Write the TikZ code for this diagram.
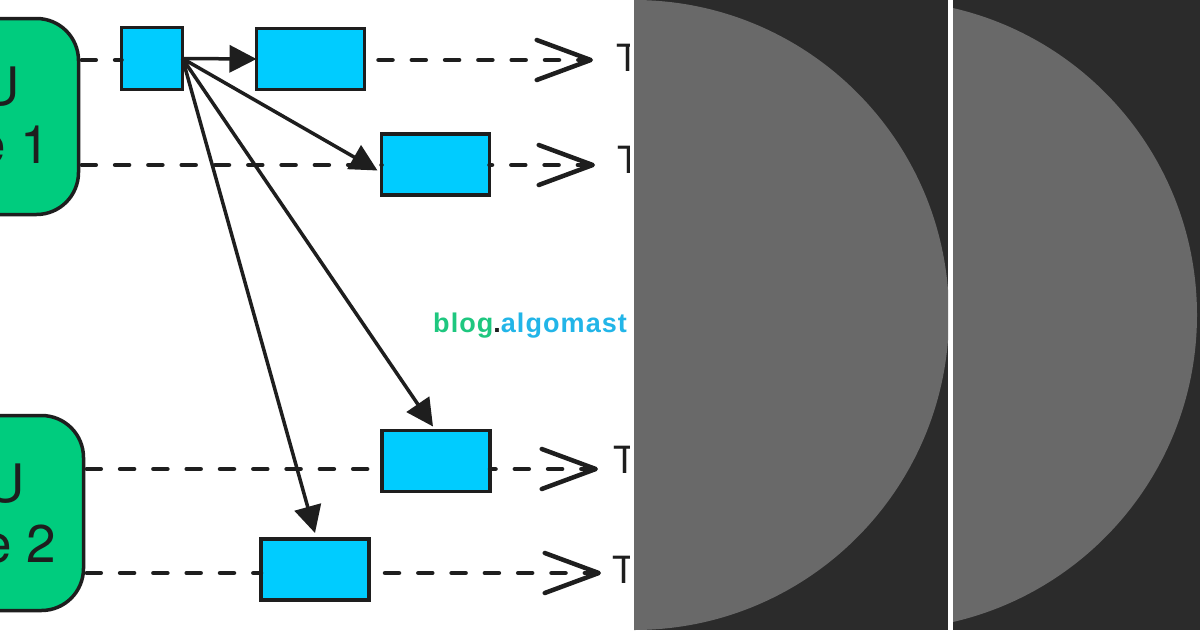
\documentclass[tikz,border=0pt]{standalone}
\usepackage{fontspec}
\setmainfont{TeX Gyre Heros}
\newfontfamily\markfont[LetterSpace=4]{Liberation Sans}
\usetikzlibrary{arrows.meta}

\begin{document}
\begin{tikzpicture}[x=1pt, y=-1pt]
		\definecolor{coregreen}{HTML}{00CC7E}
		\definecolor{taskblue}{HTML}{00CCFF}
		\definecolor{inkdark}{HTML}{1E1E1E}
		\definecolor{paneldark}{HTML}{2B2B2B}
		\definecolor{panelgray}{HTML}{696969}
		\definecolor{markgreen}{HTML}{1EC77F}
		\definecolor{markblue}{HTML}{22B5E8}
		\tikzstyle{core} = [draw=inkdark, fill=coregreen, line width=3.5pt, rounded corners=42pt, minimum width=140pt, minimum height=196pt, outer sep=0pt]
		\tikzstyle{task} = [draw=inkdark, fill=taskblue, line width=3.5pt, minimum width=108pt, minimum height=61pt, inner sep=0pt, outer sep=0pt]
		\tikzstyle{corelabel} = [anchor=base east, inner sep=0pt, text=inkdark, font=\fontsize{53}{60}\selectfont]
		\tikzstyle{tasklabel} = [anchor=base west, inner sep=0pt, text=inkdark, font=\fontsize{37.5}{44}\selectfont]
		\tikzstyle{wait} = [draw=inkdark, line width=4.5pt, line cap=round, dash pattern=on 14pt off 19.3pt]
		\tikzstyle{run} = [draw=inkdark, line width=3.5pt, -{Triangle[length=27pt, width=27pt]}]
		\tikzstyle{leave} = [wait, -{Straight Barb[length=54pt, width=40pt, line width=4.5pt, round]}]
		\useasboundingbox (0,0) rectangle (1200,630);
		\clip (0,0) rectangle (1200,630);
		\fill[white] (0,0) rectangle (1200,630);

		% cores
		\node[core] (core1) at (8.5,116.5) {};
		\node[core, minimum height=195pt] (core2) at (13.5,513) {};
		\node[corelabel] (core1-top) at (20,105) {U};
		\node[corelabel] (core1-bottom) at (50.5,163) {e 1};
		\node[corelabel] (core2-top) at (25,502) {U};
		\node[corelabel] (core2-bottom) at (56,562) {e 2};

		% tasks
		\node[task, minimum width=61pt, minimum height=62pt] (task0) at (152,58.5) {};
		\node[task] (task1) at (310.5,59) {};
		\node[task] (task2) at (435.5,164.5) {};
		\node[task] (task3) at (436,461) {};
		\node[task] (task4) at (315,569.5) {};

		% arrow ends and their labels
		\foreach \name / \x / \y / \lx / \ly in {1/593/60/616/71, 2/595/165/617/173, 3/598/469/613/473, 4/601/573/612/583} {
			\coordinate (end-\name) at (\x,\y);
			\node[tasklabel] (label-\name) at (\lx,\ly) {T};
		}

		% waiting lines
		\draw[wait, dash phase=30pt] (core1.east |- end-1) -- (task0.west |- end-1);
		\draw[wait, dash phase=30pt] (core1.east |- end-2) -- (task2.west |- end-2);
		\draw[wait, dash phase=30pt] (core2.east |- end-3) -- (task3.west |- end-3);
		\draw[wait, dash phase=30pt] (core2.east |- end-4) -- (task4.west |- end-4);

		% lines out of the tasks
		\foreach \source / \phase in {1/19.3, 2/11.5, 3/8.5, 4/17.3}
			\draw[leave, dash phase=\phase pt] (task\source.east |- end-\source) -- (end-\source);

		% moves between the cores
		\draw[run] (task0.east) -- (task1.west);
		\draw[run] (task0.east) -- ([shift={(-4,6)}]task2.west);
		\draw[run] (task0.east) -- ([shift={(-3,-4)}]task3.north);
		\draw[run] (task0.east) -- ([shift={(0,-6)}]task4.north);

		% mark
		\node[anchor=base west, inner sep=0pt, font=\fontsize{27}{30}\markfont\bfseries] (mark) at (433,332) {\textcolor{markgreen}{blog}\textcolor{inkdark}{.}\textcolor{markblue}{algomast}};

		% panels
		\fill[white] (630,0) rectangle (634,630);
		\fill[paneldark] (634,0) rectangle (948,630);
		\fill[white] (948,0) rectangle (953,630);
		\fill[paneldark] (953,0) rectangle (1200,630);
		\begin{scope}
			\clip (634,0) rectangle (948,630);
			\fill[panelgray] (634,315) circle [radius=315];
		\end{scope}
		\begin{scope}
			\clip (953,0) rectangle (1200,630);
			\fill[panelgray] (882,315) circle [radius=315];
		\end{scope}
	\end{tikzpicture}
\end{document}
